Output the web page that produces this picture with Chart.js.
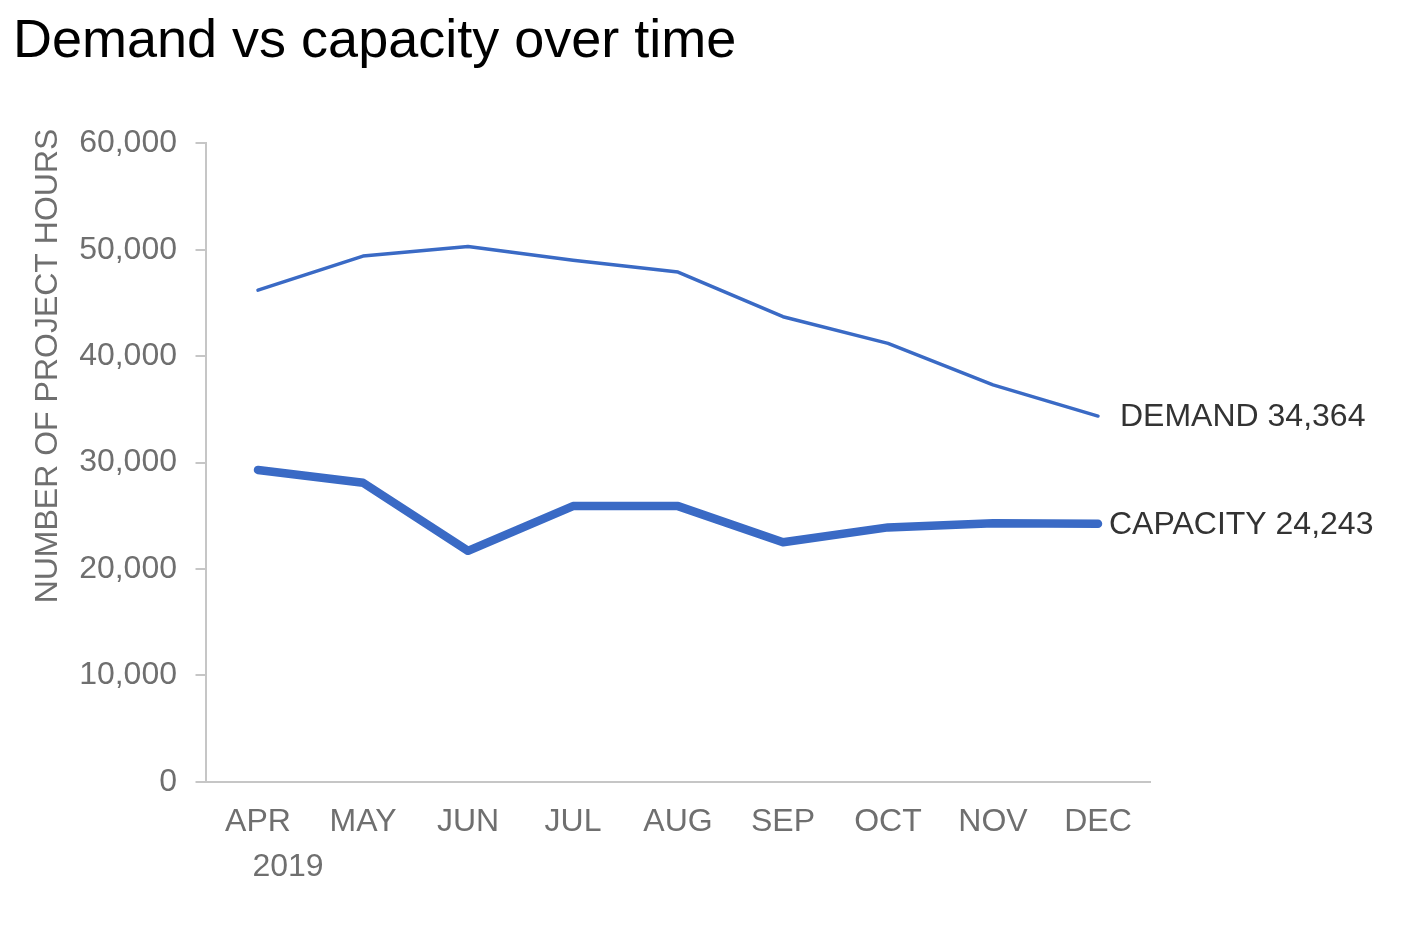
<!DOCTYPE html>
<html>
<head>
<meta charset="utf-8">
<script src="https://cdn.jsdelivr.net/npm/chart.js@4/dist/chart.umd.min.js"></script>
<style>
html,body{margin:0;padding:0;background:#fff;}
canvas{display:block;}
</style>
</head>
<body>
<canvas id="c" width="1406" height="933" style="width:1406px;height:933px"></canvas>
<script>
const categories = ['APR','MAY','JUN','JUL','AUG','SEP','OCT','NOV','DEC'];
const yearLabel = '2019';
const demand =   [46200, 49400, 50300, 49000, 47900, 43700, 41200, 37300, 34364];
const capacity = [29300, 28100, 21700, 25900, 25900, 22500, 23900, 24300, 24243];
const seriesNames = ['DEMAND', 'CAPACITY'];
const chartTitle = 'Demand vs capacity over time';
const yAxisTitle = 'NUMBER OF PROJECT HOURS';
const yTicks = [0, 10000, 20000, 30000, 40000, 50000, 60000];

const FONT = "'Liberation Sans', Arial, Helvetica, sans-serif";
const BLUE = '#3a6ac5';
const GRAY = '#6f6f6f';
const AXIS = '#c6c6c6';

const fmt = v => Number(v).toLocaleString('en-US');

const annotations = {
  id: 'annotations',
  afterDraw(chart) {
    const ctx = chart.ctx;
    ctx.save();
    // title
    ctx.fillStyle = '#000';
    ctx.font = '54px ' + FONT;
    ctx.textAlign = 'left';
    ctx.textBaseline = 'alphabetic';
    ctx.fillText(chartTitle, 13, 57);
    // y axis title
    ctx.save();
    ctx.translate(57, 366);
    ctx.rotate(-Math.PI / 2);
    ctx.fillStyle = GRAY;
    ctx.font = '32px ' + FONT;
    ctx.textAlign = 'center';
    ctx.textBaseline = 'alphabetic';
    ctx.fillText(yAxisTitle, 0, 0);
    ctx.restore();
    // year label under first category
    const xs = chart.scales.x;
    ctx.fillStyle = GRAY;
    ctx.font = '32px ' + FONT;
    ctx.textAlign = 'center';
    ctx.textBaseline = 'middle';
    ctx.fillText(yearLabel, xs.getPixelForValue(0) + 30, 867);
    // end labels
    ctx.fillStyle = '#333';
    ctx.textAlign = 'left';
    const gaps = [22, 11];
    chart.data.datasets.forEach((ds, i) => {
      const meta = chart.getDatasetMeta(i);
      const last = meta.data[meta.data.length - 1];
      const val = ds.data[ds.data.length - 1];
      ctx.fillText(seriesNames[i] + ' ' + fmt(val), last.x + gaps[i], last.y + 1.5);
    });
    ctx.restore();
  }
};

new Chart(document.getElementById('c'), {
  type: 'line',
  data: {
    labels: categories,
    datasets: [
      { label: seriesNames[0], data: demand, borderColor: BLUE, borderWidth: 3.5,
        pointRadius: 0, tension: 0, borderCapStyle: 'round', borderJoinStyle: 'round', fill: false },
      { label: seriesNames[1], data: capacity, borderColor: BLUE, borderWidth: 8.5,
        pointRadius: 0, tension: 0, borderCapStyle: 'round', borderJoinStyle: 'round', fill: false }
    ]
  },
  options: {
    responsive: false,
    animation: false,
    devicePixelRatio: 1,
    layout: { padding: { left: 0, right: 255.5, top: 143.3, bottom: 0 } },
    plugins: { legend: { display: false }, tooltip: { enabled: false }, title: { display: false } },
    scales: {
      x: {
        offset: true,
        grid: { display: false, drawTicks: false },
        border: { display: true, color: AXIS, width: 2 },
        ticks: { color: GRAY, font: { family: FONT, size: 32 }, padding: 21, maxRotation: 0, autoSkip: false },
        afterFit(s) { s.height = 933 - 781.7; }
      },
      y: {
        min: 0, max: 60000,
        afterBuildTicks(s) { s.ticks = yTicks.map(v => ({ value: v })); },
        grid: { display: true, drawOnChartArea: false, drawTicks: true, tickLength: 10, color: AXIS, lineWidth: 2 },
        border: { display: true, color: AXIS, width: 2 },
        ticks: { color: GRAY, font: { family: FONT, size: 32 }, padding: 18.5, callback: v => fmt(v) },
        afterFit(s) { s.width = 205.5; }
      }
    }
  },
  plugins: [annotations]
});
</script>
</body>
</html>
